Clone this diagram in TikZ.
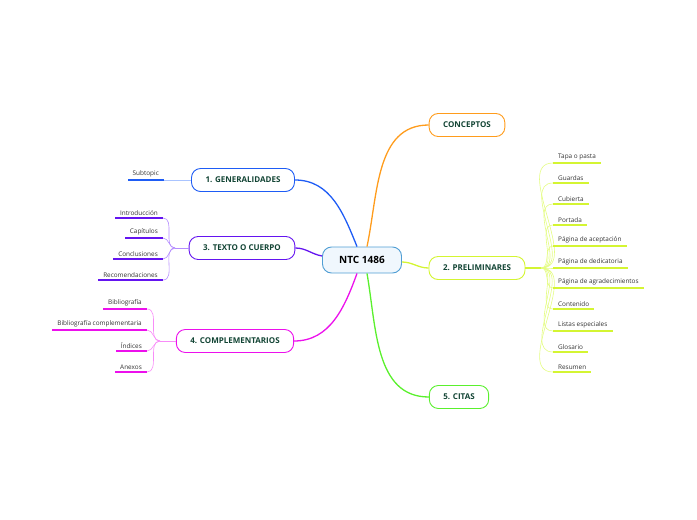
\documentclass[tikz,border=0pt]{standalone}
\usepackage{fontspec}
\setmainfont{Open Sans}
\usepackage{tikz}
\definecolor{textgreen}{RGB}{18,68,52}
\definecolor{subgray}{RGB}{50,50,50}
\definecolor{ntcblue}{RGB}{80,158,212}
\definecolor{ntcfill}{RGB}{240,247,253}
\definecolor{conorange}{RGB}{255,156,28}
\definecolor{preyellow}{RGB}{212,245,50}
\definecolor{prelight}{RGB}{228,252,130}
\definecolor{citgreen}{RGB}{90,240,45}
\definecolor{genblue}{RGB}{30,92,245}
\definecolor{genlight}{RGB}{170,196,255}
\definecolor{texpurple}{RGB}{100,20,240}
\definecolor{texlight}{RGB}{180,140,255}
\definecolor{commag}{RGB}{236,16,236}
\definecolor{comlight}{RGB}{248,140,248}
\tikzset{
  topic/.style={draw, line width=0.9pt, rounded corners=9pt, fill=white,
    minimum height=23pt, inner xsep=14pt,
    font=\fontsize{8}{9.5}\selectfont\bfseries, text=textgreen},
  sub/.style={inner xsep=5pt, inner ysep=2.6pt,
    font=\fontsize{6.4}{7.5}\selectfont, text=subgray},
  branch/.style={line width=1.3pt},
  twig/.style={line width=0.6pt},
  uline/.style={line width=1.3pt}
}
\begin{document}
\begin{tikzpicture}[x=1pt,y=1pt]
\useasboundingbox (0,0) rectangle (697,-520);
\node[draw=ntcblue, line width=0.9pt, rounded corners=9pt, fill=ntcfill, minimum width=79pt, minimum height=26pt, font=\fontsize{10}{12}\selectfont\bfseries] (ntc) at (362,-260) {NTC 1486};
\node[topic, draw=conorange] (con) at (467,-125) {CONCEPTOS};
\node[topic, draw=preyellow] (pre) at (477,-268) {2. PRELIMINARES};
\node[topic, draw=citgreen] (cit) at (459,-397) {5. CITAS};
\node[topic, draw=genblue] (gen) at (243,-180) {1. GENERALIDADES};
\node[topic, draw=texpurple] (tex) at (242,-248) {3. TEXTO O CUERPO};
\node[topic, draw=commag] (com) at (235,-341) {4. COMPLEMENTARIOS};
\draw[branch, conorange] ([xshift=5pt]ntc.north) to[out=78,in=180] (con.west);
\draw[branch, genblue] ([xshift=-5pt]ntc.north) to[out=112,in=0] (gen.east);
\draw[branch, texpurple] ([yshift=4pt]ntc.west) to[out=170,in=0] (tex.east);
\draw[branch, commag] ([xshift=-5pt]ntc.south) to[out=-110,in=0] (com.east);
\draw[branch, preyellow] ([yshift=-2pt]ntc.east) to[out=0,in=180] (pre.west);
\draw[branch, citgreen] ([xshift=5pt]ntc.south) to[out=-80,in=180] (cit.west);
\node[sub, anchor=south east] (stp) at (164,-180) {Subtopic};
\draw[twig, genlight] (gen.west) -- (stp.south east);
\draw[uline, genblue] (stp.south east) -- (stp.south west);
\coordinate (j3) at (175,-248);
\draw[twig, texlight] (tex.west) -- (j3);
\node[sub, anchor=south east] (intro) at (163,-218) {Introducción};
\node[sub, anchor=south east] (capi) at (163,-238) {Capítulos};
\node[sub, anchor=south east] (conc) at (163,-259) {Conclusiones};
\node[sub, anchor=south east] (reco) at (163,-280) {Recomendaciones};
\draw[twig, texlight] (j3) to[out=180,in=0] (intro.south east);
\draw[twig, texlight] (j3) to[out=180,in=0] (capi.south east);
\draw[twig, texlight] (j3) to[out=180,in=0] (conc.south east);
\draw[twig, texlight] (j3) to[out=180,in=0] (reco.south east);
\draw[uline, texpurple] (intro.south east) -- (intro.south west);
\draw[uline, texpurple] (capi.south east) -- (capi.south west);
\draw[uline, texpurple] (conc.south east) -- (conc.south west);
\draw[uline, texpurple] (reco.south east) -- (reco.south west);
\coordinate (j4) at (160,-341);
\draw[twig, comlight] (com.west) -- (j4);
\node[sub, anchor=south east] (bib) at (147,-309) {Bibliografía};
\node[sub, anchor=south east] (bibc) at (147,-330) {Bibliografía complementaria};
\node[sub, anchor=south east] (indi) at (147,-351) {Índices};
\node[sub, anchor=south east] (anex) at (147,-372) {Anexos};
\draw[twig, comlight] (j4) to[out=180,in=0] (bib.south east);
\draw[twig, comlight] (j4) to[out=180,in=0] (bibc.south east);
\draw[twig, comlight] (j4) to[out=180,in=0] (indi.south east);
\draw[twig, comlight] (j4) to[out=180,in=0] (anex.south east);
\draw[uline, commag] (bib.south east) -- (bib.south west);
\draw[uline, commag] (bibc.south east) -- (bibc.south west);
\draw[uline, commag] (indi.south east) -- (indi.south west);
\draw[uline, commag] (anex.south east) -- (anex.south west);
\coordinate (j2) at (541,-268);
\draw[branch, preyellow] (pre.east) -- (j2);
\node[sub, anchor=south west] (tapa) at (553,-163) {Tapa o pasta};
\node[sub, anchor=south west] (guar) at (553,-183) {Guardas};
\node[sub, anchor=south west] (cubi) at (553,-204) {Cubierta};
\node[sub, anchor=south west] (port) at (553,-225) {Portada};
\node[sub, anchor=south west] (acep) at (553,-246) {Página de aceptación};
\node[sub, anchor=south west] (dedi) at (553,-268) {Página de dedicatoria};
\node[sub, anchor=south west] (agra) at (553,-288) {Página de agradecimientos};
\node[sub, anchor=south west] (cont) at (553,-309) {Contenido};
\node[sub, anchor=south west] (list) at (553,-331) {Listas especiales};
\node[sub, anchor=south west] (glos) at (553,-352) {Glosario};
\node[sub, anchor=south west] (resu) at (553,-372) {Resumen};
\draw[twig, prelight] (j2) to[out=0,in=180] (tapa.south west);
\draw[twig, prelight] (j2) to[out=0,in=180] (guar.south west);
\draw[twig, prelight] (j2) to[out=0,in=180] (cubi.south west);
\draw[twig, prelight] (j2) to[out=0,in=180] (port.south west);
\draw[twig, prelight] (j2) to[out=0,in=180] (acep.south west);
\draw[twig, prelight] (j2) to[out=0,in=180] (dedi.south west);
\draw[twig, prelight] (j2) to[out=0,in=180] (agra.south west);
\draw[twig, prelight] (j2) to[out=0,in=180] (cont.south west);
\draw[twig, prelight] (j2) to[out=0,in=180] (list.south west);
\draw[twig, prelight] (j2) to[out=0,in=180] (glos.south west);
\draw[twig, prelight] (j2) to[out=0,in=180] (resu.south west);
\draw[uline, preyellow] (tapa.south west) -- (tapa.south east);
\draw[uline, preyellow] (guar.south west) -- (guar.south east);
\draw[uline, preyellow] (cubi.south west) -- (cubi.south east);
\draw[uline, preyellow] (port.south west) -- (port.south east);
\draw[uline, preyellow] (acep.south west) -- (acep.south east);
\draw[uline, preyellow] (dedi.south west) -- (dedi.south east);
\draw[uline, preyellow] (agra.south west) -- (agra.south east);
\draw[uline, preyellow] (cont.south west) -- (cont.south east);
\draw[uline, preyellow] (list.south west) -- (list.south east);
\draw[uline, preyellow] (glos.south west) -- (glos.south east);
\draw[uline, preyellow] (resu.south west) -- (resu.south east);
\end{tikzpicture}
\end{document}
